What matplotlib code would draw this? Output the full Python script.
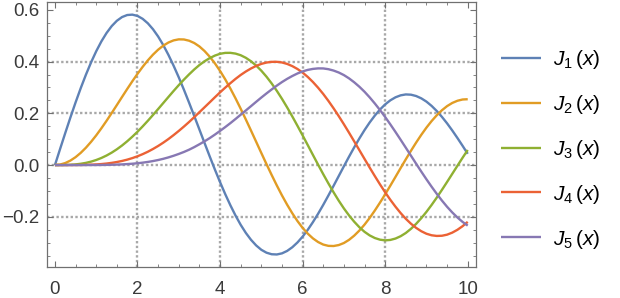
import numpy as np
import matplotlib
matplotlib.use("Agg")
import matplotlib.pyplot as plt
from matplotlib.ticker import MultipleLocator

plt.rcParams['font.family'] = ['Liberation Sans', 'DejaVu Sans']
plt.rcParams['mathtext.fontset'] = 'custom'
plt.rcParams['mathtext.rm'] = 'Liberation Sans'
plt.rcParams['mathtext.it'] = 'Liberation Sans:italic'

# values, x step 0.125
x = [i * 0.125 for i in range(81)]

j1 = [0.0, 0.0624, 0.1240, 0.1842, 0.2423, 0.2975, 0.3492, 0.3969, 0.4401, 0.4781,
      0.5106, 0.5373, 0.5579, 0.5722, 0.5801, 0.5816, 0.5767, 0.5654, 0.5482, 0.5253,
      0.4971, 0.4637, 0.4258, 0.3841, 0.3391, 0.2912, 0.2411, 0.1896, 0.1374, 0.0851,
      0.0333, -0.0173, -0.0660, -0.1122, -0.1554, -0.1952, -0.2311, -0.2624, -0.2890, -0.3108,
      -0.3276, -0.3388, -0.3448, -0.3457, -0.3414, -0.3320, -0.3178, -0.2993, -0.2767, -0.2503,
      -0.2206, -0.1883, -0.1538, -0.1176, -0.0803, -0.0425, -0.0047, 0.0325, 0.0685, 0.1029,
      0.1352, 0.1648, 0.1914, 0.2148, 0.2346, 0.2503, 0.2620, 0.2696, 0.2731, 0.2721,
      0.2670, 0.2580, 0.2453, 0.2288, 0.2090, 0.1864, 0.1613, 0.1339, 0.1048, 0.0746,
      0.0435]
j2 = [0.0, 0.0020, 0.0078, 0.0174, 0.0306, 0.0473, 0.0671, 0.0898, 0.1149, 0.1422,
      0.1711, 0.2012, 0.2321, 0.2632, 0.2940, 0.3240, 0.3528, 0.3798, 0.4047, 0.4269,
      0.4461, 0.4618, 0.4739, 0.4821, 0.4861, 0.4856, 0.4808, 0.4719, 0.4586, 0.4408,
      0.4189, 0.3933, 0.3641, 0.3315, 0.2959, 0.2579, 0.2178, 0.1761, 0.1334, 0.0900,
      0.0466, 0.0037, -0.0382, -0.0787, -0.1173, -0.1532, -0.1863, -0.2164, -0.2429, -0.2652,
      -0.2835, -0.2976, -0.3074, -0.3124, -0.3130, -0.3093, -0.3014, -0.2891, -0.2729, -0.2532,
      -0.2303, -0.2043, -0.1757, -0.1451, -0.1130, -0.0797, -0.0457, -0.0115, 0.0223, 0.0552,
      0.0869, 0.1169, 0.1448, 0.1701, 0.1925, 0.2119, 0.2279, 0.2401, 0.2486, 0.2535,
      0.2546]
j3 = [0.0, 0.0000, 0.0003, 0.0011, 0.0026, 0.0050, 0.0085, 0.0133, 0.0196, 0.0274,
      0.0369, 0.0481, 0.0610, 0.0756, 0.0919, 0.1097, 0.1289, 0.1495, 0.1711, 0.1936,
      0.2166, 0.2400, 0.2634, 0.2866, 0.3091, 0.3305, 0.3507, 0.3697, 0.3868, 0.4014,
      0.4135, 0.4233, 0.4302, 0.4337, 0.4339, 0.4310, 0.4247, 0.4147, 0.4013, 0.3847,
      0.3648, 0.3417, 0.3157, 0.2871, 0.2561, 0.2230, 0.1881, 0.1519, 0.1148, 0.0771,
      0.0392, 0.0016, -0.0353, -0.0710, -0.1052, -0.1376, -0.1676, -0.1948, -0.2190, -0.2403,
      -0.2581, -0.2720, -0.2821, -0.2885, -0.2911, -0.2895, -0.2841, -0.2751, -0.2626, -0.2465,
      -0.2273, -0.2053, -0.1809, -0.1542, -0.1258, -0.0960, -0.0653, -0.0341, -0.0028, 0.0282,
      0.0584]
j4 = [0.0, 0.0000, 0.0000, 0.0001, 0.0002, 0.0004, 0.0008, 0.0015, 0.0025, 0.0039,
      0.0059, 0.0085, 0.0118, 0.0159, 0.0209, 0.0269, 0.0340, 0.0422, 0.0515, 0.0621,
      0.0738, 0.0867, 0.1007, 0.1159, 0.1320, 0.1489, 0.1666, 0.1853, 0.2044, 0.2235,
      0.2427, 0.2621, 0.2811, 0.2993, 0.3166, 0.3332, 0.3484, 0.3618, 0.3735, 0.3834,
      0.3912, 0.3964, 0.3990, 0.3992, 0.3967, 0.3911, 0.3826, 0.3715, 0.3576, 0.3407,
      0.3211, 0.2991, 0.2748, 0.2481, 0.2195, 0.1893, 0.1578, 0.1251, 0.0916, 0.0577,
      0.0238, -0.0098, -0.0427, -0.0747, -0.1054, -0.1342, -0.1610, -0.1856, -0.2077, -0.2268,
      -0.2428, -0.2558, -0.2655, -0.2715, -0.2740, -0.2733, -0.2691, -0.2613, -0.2503, -0.2364,
      -0.2196]
j5 = [0.0, 0.0000, 0.0000, 0.0000, 0.0000, 0.0000, 0.0001, 0.0001, 0.0002, 0.0004,
      0.0007, 0.0012, 0.0018, 0.0026, 0.0038, 0.0052, 0.0070, 0.0093, 0.0121, 0.0155,
      0.0195, 0.0242, 0.0297, 0.0360, 0.0430, 0.0507, 0.0594, 0.0694, 0.0804, 0.0919,
      0.1043, 0.1178, 0.1321, 0.1468, 0.1621, 0.1782, 0.1947, 0.2112, 0.2278, 0.2446,
      0.2611, 0.2770, 0.2923, 0.3071, 0.3209, 0.3333, 0.3443, 0.3541, 0.3621, 0.3680,
      0.3718, 0.3738, 0.3736, 0.3707, 0.3654, 0.3579, 0.3479, 0.3352, 0.3201, 0.3029,
      0.2835, 0.2617, 0.2380, 0.2127, 0.1858, 0.1574, 0.1280, 0.0978, 0.0671, 0.0362,
      0.0053, -0.0252, -0.0550, -0.0837, -0.1112, -0.1372, -0.1613, -0.1831, -0.2026, -0.2197,
      -0.2341]

labels = [r'$J_1\,(x)$', r'$J_2\,(x)$', r'$J_3\,(x)$', r'$J_4\,(x)$', r'$J_5\,(x)$']
colors = ['#5E81B5', '#E19C24', '#8FB032', '#EB6235', '#8778B3']

xticks = [0, 2, 4, 6, 8, 10]
yticks = [-0.2, 0.0, 0.2, 0.4, 0.6]
ytick_labels = ['\u22120.2', '0.0', '0.2', '0.4', '0.6']
xgrid = [2, 4, 6, 8]
ygrid = [-0.2, 0.0, 0.2, 0.4]

fig = plt.figure(figsize=(6.2, 2.98), dpi=100)
ax = fig.add_axes([0.0753, 0.105, 0.6924, 0.887])

grid_kw = dict(color='#a8a8a8', lw=1.7, linestyle=(0, (1, 1.0)), zorder=1)
for g in xgrid:
    ax.axvline(g, **grid_kw)
for g in ygrid:
    ax.axhline(g, **grid_kw)

for ys, lab, c in zip([j1, j2, j3, j4, j5], labels, colors):
    ax.plot(x, ys, color=c, lw=1.7, label=lab, solid_capstyle='butt', zorder=3)

ax.set_xlim(-0.2, 10.2)
ax.set_ylim(-0.393, 0.629)
ax.set_xticks(xticks)
ax.set_xticklabels([str(t) for t in xticks])
ax.set_yticks(yticks)
ax.set_yticklabels(ytick_labels)
ax.xaxis.set_minor_locator(MultipleLocator(0.5))
ax.yaxis.set_minor_locator(MultipleLocator(0.05))

for s in ax.spines.values():
    s.set_color('#707070')
    s.set_linewidth(0.9)

ax.tick_params(which='both', direction='in', top=True, right=True, color='#707070')
ax.tick_params(which='major', length=4, width=0.8, labelsize=13.5, labelcolor='#3a3a3a')
ax.tick_params(which='minor', length=2.5, width=0.6)
ax.tick_params(axis='x', pad=10)
ax.tick_params(axis='y', pad=5)

fig.legend(loc='center left', bbox_to_anchor=(0.808, 0.499), frameon=False,
           fontsize=15, handlelength=1.9, handletextpad=0.62, labelspacing=1.05,
           borderpad=0, borderaxespad=0)

fig.savefig('out.png', dpi=100)
